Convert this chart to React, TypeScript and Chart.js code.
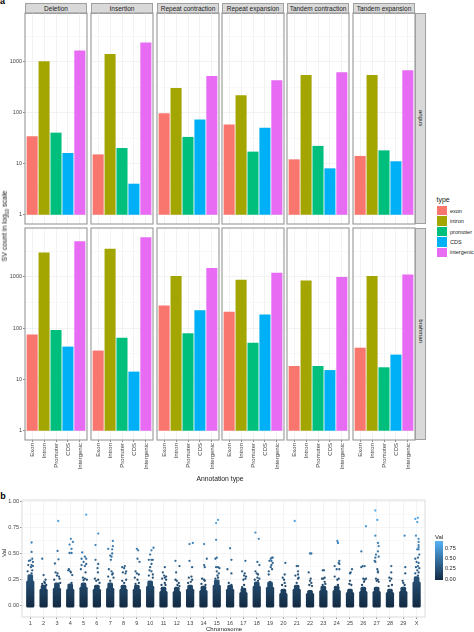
import { useEffect, useRef } from 'react';
import { Chart, registerables } from 'chart.js';

Chart.register(...registerables);

const FONT = "'Liberation Sans', Arial, sans-serif";

const facets = ['Deletion', 'Insertion', 'Repeat contraction', 'Repeat expansion', 'Tandem contraction', 'Tandem expansion'];
const categories = ['Exon', 'Intron', 'Promoter', 'CDS', 'Intergenic'];
const legendLabels = ['exon', 'intron', 'promoter', 'CDS', 'intergenic'];
const typeColors = ['#F8766D', '#A3A500', '#00BF7D', '#00B0F6', '#E76BF3'];
const logMajor = [1, 10, 100, 1000];
const logMinor = [3.16, 31.6, 316, 3160];

// one row per facet, values in category order
const angusCounts = [
  [34, 1000, 40, 16, 1620],
  [15, 1395, 20, 4, 2320],
  [96, 300, 33, 72, 517],
  [58, 216, 17, 50, 425],
  [12, 540, 22, 8, 610],
  [14, 540, 18, 11, 667],
];
const brahmanCounts = [
  [74, 2950, 91, 43, 4840],
  [36, 3480, 64, 14, 5800],
  [272, 1018, 78, 220, 1460],
  [205, 863, 51, 181, 1183],
  [18, 838, 18, 15, 973],
  [41, 1018, 17, 30, 1098],
];

const chromosomes = ['1', '2', '3', '4', '5', '6', '7', '8', '9', '10', '11', '12', '13', '14', '15', '16', '17', '18', '19', '20', '21', '22', '23', '24', '25', '26', '27', '28', '29', 'X'];
const valTicks = [0, 0.25, 0.5, 0.75, 1];
const valMinor = [0.125, 0.375, 0.625, 0.875];

// The solid part of each chromosome's column is too dense to read dot by dot,
// so it is drawn as a band: full width up to coreTop, narrower up to massTop.
const coreTop = [0.24, 0.16, 0.17, 0.16, 0.18, 0.16, 0.17, 0.16, 0.16, 0.19, 0.14, 0.14, 0.16, 0.15, 0.2, 0.16, 0.13, 0.19, 0.18, 0.12, 0.16, 0.12, 0.15, 0.15, 0.13, 0.14, 0.14, 0.13, 0.14, 0.23];
const massTop = [0.3, 0.2, 0.22, 0.21, 0.22, 0.2, 0.22, 0.2, 0.2, 0.24, 0.18, 0.18, 0.2, 0.19, 0.25, 0.2, 0.17, 0.23, 0.23, 0.16, 0.2, 0.15, 0.19, 0.19, 0.16, 0.18, 0.18, 0.16, 0.18, 0.28];

// readable dots above the band, per chromosome: [jitter, Val]
const outliers: number[][][] = [
  [[0.1, 0.605], [0.1, 0.515], [0.15, 0.45], [0, 0.435], [-0.1, 0.43], [0.2, 0.42], [-0.15, 0.39], [0.1, 0.39], [0.05, 0.37], [0.2, 0.38], [-0.2, 0.33], [0.15, 0.34], [0.1, 0.31]],
  [[-0.1, 0.45], [0, 0.295], [0.15, 0.25], [0.05, 0.23], [-0.1, 0.21], [0.2, 0.2], [0.1, 0.22]],
  [[0.1, 0.81], [0.05, 0.525], [0.12, 0.445], [-0.15, 0.405], [-0.1, 0.32], [0.05, 0.31], [0.15, 0.28], [0.2, 0.26], [-0.2, 0.25], [0, 0.29], [0.25, 0.22]],
  [[0.05, 0.64], [0.2, 0.61], [-0.05, 0.585], [0.1, 0.545], [-0.05, 0.505], [0.1, 0.505], [-0.1, 0.35], [0, 0.33], [0.05, 0.32], [0.15, 0.295], [-0.15, 0.34], [0.1, 0.22]],
  [[0.2, 0.87], [-0.1, 0.51], [0.1, 0.47], [0.2, 0.45], [-0.15, 0.45], [0, 0.42], [0.2, 0.4], [-0.15, 0.39], [0.1, 0.38], [-0.2, 0.35], [0.15, 0.32], [-0.05, 0.27], [0.1, 0.26], [0.25, 0.25], [0, 0.245]],
  [[0.1, 0.69], [-0.1, 0.58], [-0.1, 0.44], [0.1, 0.4], [0.05, 0.36], [0.08, 0.32], [-0.15, 0.26], [0.1, 0.25], [0.2, 0.22], [-0.05, 0.24]],
  [[0.2, 0.62], [0.2, 0.57], [0.15, 0.54], [-0.15, 0.545], [0.15, 0.5], [0, 0.48], [0.1, 0.47], [0.05, 0.44], [-0.1, 0.35], [0.1, 0.33], [0.2, 0.31], [-0.15, 0.28], [0.15, 0.3], [0.25, 0.27], [0, 0.24]],
  [[0.1, 0.38], [-0.1, 0.37], [0.05, 0.36], [0.2, 0.33], [-0.05, 0.32], [0.15, 0.31], [0.2, 0.25], [-0.1, 0.24], [0.05, 0.22]],
  [[0, 0.545], [0.1, 0.53], [0.05, 0.45], [0.2, 0.42], [-0.1, 0.33], [0, 0.31], [0.15, 0.3], [-0.15, 0.27], [0.05, 0.25], [0.15, 0.22], [-0.1, 0.21]],
  [[0.25, 0.555], [0.1, 0.53], [0, 0.49], [-0.1, 0.44], [0.1, 0.44], [0.2, 0.44], [0.1, 0.4], [0, 0.37], [-0.05, 0.34], [0.1, 0.33], [0.2, 0.3], [-0.1, 0.29], [0.2, 0.27]],
  [[0.1, 0.37], [-0.05, 0.32], [0.05, 0.29], [0.2, 0.28], [0.1, 0.27], [-0.1, 0.26], [0.2, 0.25], [0.1, 0.22], [-0.15, 0.2], [0.15, 0.2]],
  [[-0.1, 0.43], [0.2, 0.38], [-0.05, 0.32], [-0.1, 0.25], [0, 0.24], [0.15, 0.22], [0.05, 0.2], [0.2, 0.19]],
  [[-0.05, 0.59], [0.2, 0.6], [-0.05, 0.43], [0.15, 0.37], [0.1, 0.28], [-0.1, 0.27], [0.15, 0.25], [0.05, 0.23], [-0.15, 0.22]],
  [[0.05, 0.59], [0.25, 0.45], [0.05, 0.39], [0.1, 0.37], [-0.1, 0.26], [0.05, 0.25], [0.1, 0.24], [0.15, 0.2], [-0.15, 0.21]],
  [[0.1, 0.82], [-0.05, 0.79], [-0.05, 0.63], [0, 0.46], [-0.1, 0.45], [0.1, 0.37], [-0.05, 0.37], [0.2, 0.36], [0, 0.33], [0.15, 0.31], [0.05, 0.29], [0.1, 0.27], [-0.1, 0.26]],
  [[0, 0.55], [0.1, 0.44], [-0.2, 0.35], [0.1, 0.31], [-0.1, 0.22], [0.1, 0.2]],
  [[0.15, 0.43], [-0.1, 0.33], [0.1, 0.31], [0.05, 0.29], [0.2, 0.28], [0, 0.25], [0.15, 0.26], [0.05, 0.2], [-0.1, 0.18]],
  [[-0.1, 0.7], [0.15, 0.64], [0.05, 0.42], [0.2, 0.39], [-0.1, 0.33], [0, 0.31], [0.1, 0.3], [0.05, 0.27], [-0.15, 0.25], [0.2, 0.26], [0.1, 0.24]],
  [[0.15, 0.46], [0.05, 0.45], [0.2, 0.46], [0.1, 0.43], [-0.05, 0.43], [0.2, 0.41], [0.1, 0.39], [0.05, 0.37], [-0.1, 0.33], [0.15, 0.35], [-0.1, 0.3], [0, 0.23]],
  [[0.15, 0.41], [0.1, 0.3], [-0.05, 0.27], [0.05, 0.25], [0.1, 0.22], [-0.1, 0.2], [0.15, 0.19]],
  [[-0.15, 0.81], [0.1, 0.38], [0, 0.38], [0.1, 0.33], [0.1, 0.3], [-0.1, 0.29], [0.1, 0.26], [0.15, 0.27], [0, 0.22]],
  [[0.1, 0.5], [0, 0.5], [-0.1, 0.32], [0.05, 0.26], [0, 0.24], [0.1, 0.22], [-0.05, 0.2], [0.15, 0.19]],
  [[-0.05, 0.34], [0.05, 0.34], [0.1, 0.27], [-0.1, 0.26], [0, 0.26], [0.1, 0.23], [0.15, 0.21], [-0.05, 0.2]],
  [[0.05, 0.62], [0.1, 0.6], [0.2, 0.43], [0.15, 0.41], [0.2, 0.4], [-0.15, 0.38], [0, 0.35], [0.2, 0.35], [-0.15, 0.28], [0.15, 0.26], [0.05, 0.25], [0.1, 0.2]],
  [[0.15, 0.35], [0.05, 0.32], [0, 0.31], [0, 0.24], [-0.05, 0.21], [0.1, 0.2]],
  [[0.2, 0.76], [-0.15, 0.52], [-0.05, 0.38], [0.1, 0.38], [-0.15, 0.37], [0, 0.26], [0.2, 0.26], [0.1, 0.25], [0.05, 0.23], [-0.1, 0.2]],
  [[-0.1, 0.91], [0.05, 0.82], [-0.1, 0.67], [0.1, 0.6], [0.15, 0.57], [0.1, 0.52], [-0.05, 0.49], [0.15, 0.47], [-0.1, 0.46], [-0.15, 0.43], [-0.1, 0.42], [0.05, 0.35], [0.1, 0.33], [0.1, 0.32], [-0.05, 0.26], [0.1, 0.25], [0, 0.24], [0.15, 0.23]],
  [[0.1, 0.38], [0.1, 0.32], [-0.05, 0.27], [0.1, 0.26], [0, 0.24], [0.15, 0.2], [-0.1, 0.19]],
  [[0.1, 0.67], [0.15, 0.37], [0.15, 0.31], [-0.05, 0.24], [0, 0.22], [0.1, 0.2]],
  [[-0.1, 0.83], [0.1, 0.84], [0.05, 0.8], [-0.05, 0.67], [0.15, 0.64], [0.15, 0.61], [0.15, 0.58], [0.15, 0.56], [0.05, 0.54], [0.15, 0.54], [0.2, 0.49], [-0.1, 0.45], [0.1, 0.46], [0, 0.42], [0.15, 0.41], [0.1, 0.38], [-0.05, 0.37], [0.2, 0.36], [0.05, 0.34], [0.15, 0.32], [-0.1, 0.31], [0.1, 0.29]],
];

const panelLefts = [25, 91, 157, 222, 287, 353];
const PANEL_W = 62;
const LEFT_GUTTER = 25;
const BOTTOM_GUTTER = 36;

const borderPlugin = (color: string, width: number) => ({
  id: 'panelBorder',
  afterDraw(chart: Chart) {
    const { left, top, width: w, height: h } = chart.chartArea;
    const ctx = chart.ctx;
    ctx.save();
    ctx.strokeStyle = color;
    ctx.lineWidth = width;
    ctx.strokeRect(left, top, w, h);
    ctx.restore();
  },
});

// pin an axis to a fixed thickness, and stop its labels from shrinking the plot area
const fixAxis = (s: any, size: { width?: number; height?: number }) => {
  if (size.width !== undefined) s.width = size.width;
  if (size.height !== undefined) s.height = size.height;
  s.paddingLeft = 0;
  s.paddingRight = 0;
  s.paddingTop = 0;
  s.paddingBottom = 0;
};

interface BarPanelProps {
  values: number[];
  column: number;
  top: number;
  height: number;
  showBottom: boolean;
}

const BarPanel = ({ values, column, top, height, showBottom }: BarPanelProps) => {
  const canvasRef = useRef<HTMLCanvasElement>(null);
  const showLeft = column === 0;
  const leftW = showLeft ? LEFT_GUTTER : 0;
  const bottomH = showBottom ? BOTTOM_GUTTER : 0;

  useEffect(() => {
    if (!canvasRef.current) return;
    const chart = new Chart(canvasRef.current, {
      type: 'bar',
      data: {
        datasets: [{
          data: values.map((v, i) => ({ x: i, y: v })),
          backgroundColor: typeColors,
          barThickness: 10.4,
          base: 1,
        }],
      },
      options: {
        animation: false,
        responsive: false,
        events: [],
        layout: { padding: 1 },
        plugins: { legend: { display: false }, tooltip: { enabled: false } },
        scales: {
          x: {
            type: 'linear',
            offset: false,
            min: -0.6,
            max: 4.6,
            afterBuildTicks: (s: any) => { s.ticks = categories.map((_, i) => ({ value: i })); },
            afterFit: (s: any) => fixAxis(s, { height: bottomH }),
            border: { display: false },
            grid: { offset: false, color: '#ededed', lineWidth: 0.7, drawTicks: showBottom, tickLength: 2, tickColor: '#555' },
            ticks: {
              display: showBottom,
              autoSkip: false,
              minRotation: 90,
              maxRotation: 90,
              padding: 1,
              color: '#444',
              font: { family: FONT, size: 6 },
              callback: (v: any) => categories[v],
            },
          },
          y: {
            type: 'logarithmic',
            min: 0.66,
            max: 8950,
            afterBuildTicks: (s: any) => { s.ticks = [...logMajor, ...logMinor].map(value => ({ value })); },
            afterFit: (s: any) => fixAxis(s, { width: leftW }),
            border: { display: false },
            grid: {
              color: (c: any) => (logMajor.includes(c.tick.value) ? '#ededed' : '#f5f5f5'),
              lineWidth: 0.7,
              drawTicks: showLeft,
              tickLength: 2,
              tickColor: (c: any) => (logMajor.includes(c.tick.value) ? '#555' : 'transparent'),
            },
            ticks: {
              display: showLeft,
              autoSkip: false,
              padding: 1,
              color: '#444',
              font: { family: FONT, size: 5.5 },
              callback: (v: any) => (logMajor.includes(v) ? String(v) : ''),
            },
          },
        },
      },
      plugins: [borderPlugin('#a0a0a0', 1.2)],
    } as any);
    return () => chart.destroy();
  }, [values, leftW, bottomH, showLeft, showBottom]);

  return (
    <canvas
      ref={canvasRef}
      width={PANEL_W + leftW + 2}
      height={height + bottomH + 2}
      style={{ position: 'absolute', left: panelLefts[column] - leftW - 1, top: top - 1 }}
    />
  );
};

const lerpVal = (v: number) => {
  const t = Math.min(v / 0.91, 1);
  const r = Math.round(0x13 + (0x56 - 0x13) * t);
  const g = Math.round(0x2b + (0xb1 - 0x2b) * t);
  const b = Math.round(0x43 + (0xf7 - 0x43) * t);
  return `rgb(${r},${g},${b})`;
};

const bandFill = (c: any) => {
  const { ctx, scales } = c.chart;
  const from = scales.y ? scales.y.getPixelForValue(0) : NaN;
  const to = scales.y ? scales.y.getPixelForValue(0.91) : NaN;
  if (!Number.isFinite(from) || !Number.isFinite(to)) return '#132B43'; // scale not laid out yet
  const g = ctx.createLinearGradient(0, from, 0, to);
  g.addColorStop(0, '#132B43');
  g.addColorStop(1, '#56B1F7');
  return g;
};

const ValScatter = () => {
  const canvasRef = useRef<HTMLCanvasElement>(null);

  useEffect(() => {
    if (!canvasRef.current) return;
    const dots = outliers.flatMap((list, i) => list.map(([dx, v]) => ({ x: i + dx, y: v })));
    const chart = new Chart(canvasRef.current, {
      type: 'scatter',
      data: {
        datasets: [
          { type: 'bar', grouped: false, order: 2, data: massTop.map((v, i) => ({ x: i, y: v })), backgroundColor: bandFill, barThickness: 5, base: -0.005, borderRadius: 1.5, borderSkipped: false },
          { type: 'bar', grouped: false, order: 1, data: coreTop.map((v, i) => ({ x: i, y: v })), backgroundColor: bandFill, barThickness: 7.6, base: -0.012, borderRadius: 1.5, borderSkipped: false },
          {
            type: 'scatter',
            order: 0,
            data: dots,
            pointRadius: 1.15,
            pointBorderWidth: 0,
            pointBackgroundColor: (c: any) => lerpVal(c.raw ? c.raw.y : 0),
          },
        ],
      },
      options: {
        animation: false,
        responsive: false,
        events: [],
        layout: { padding: 1 },
        plugins: { legend: { display: false }, tooltip: { enabled: false } },
        scales: {
          x: {
            type: 'linear',
            offset: false,
            min: -0.62,
            max: 29.63,
            afterBuildTicks: (s: any) => { s.ticks = chromosomes.map((_, i) => ({ value: i })); },
            afterFit: (s: any) => fixAxis(s, { height: 10 }),
            border: { display: false },
            grid: { offset: false, color: '#efefef', lineWidth: 0.7, tickLength: 2, tickColor: '#666' },
            ticks: {
              autoSkip: false,
              maxRotation: 0,
              padding: 1,
              color: '#444',
              font: { family: FONT, size: 5.5 },
              callback: (v: any) => chromosomes[v],
            },
          },
          y: {
            type: 'linear',
            min: -0.105,
            max: 1.01,
            afterBuildTicks: (s: any) => { s.ticks = [...valTicks, ...valMinor].map(value => ({ value })); },
            afterFit: (s: any) => fixAxis(s, { width: 22 }),
            border: { display: false },
            grid: {
              color: (c: any) => (valTicks.includes(c.tick.value) ? '#efefef' : '#f6f6f6'),
              lineWidth: 0.7,
              tickLength: 2,
              tickColor: (c: any) => (valTicks.includes(c.tick.value) ? '#666' : 'transparent'),
            },
            ticks: {
              autoSkip: false,
              padding: 1,
              color: '#444',
              font: { family: FONT, size: 5.5 },
              callback: (v: any) => (valTicks.includes(v) ? v.toFixed(2) : ''),
            },
          },
        },
      },
      plugins: [borderPlugin('#e2e2e2', 1.2)],
    } as any);
    return () => chart.destroy();
  }, []);

  return <canvas ref={canvasRef} width={430} height={132} style={{ position: 'absolute', left: -1, top: 496 }} />;
};

const Text = ({ x, y, size = 6.5, rotate = 0, color = '#222', bold = false, align = 'center', children }: any) => (
  <div
    style={{
      position: 'absolute',
      left: x,
      top: y,
      font: `${bold ? 'bold ' : ''}${size}px ${FONT}`,
      color,
      whiteSpace: 'nowrap',
      transform: `translate(${align === 'left' ? '0' : '-50%'}, -50%) rotate(${rotate}deg)`,
    }}
  >
    {children}
  </div>
);

const stripStyle = {
  position: 'absolute' as const,
  boxSizing: 'border-box' as const,
  background: '#d9d9d9',
  border: '1px solid #a0a0a0',
};

export default function App() {
  return (
    <div style={{ position: 'absolute', left: 0, top: 0, width: 474, height: 632, overflow: 'hidden', background: '#fff' }}>
      <Text x={2.5} y={1} size={9} bold color="#000">a</Text>
      <Text x={3} y={496} size={9} bold color="#000">b</Text>

      {facets.map((name, i) => (
        <div key={name}>
          <div style={{ ...stripStyle, left: panelLefts[i], top: 3, width: PANEL_W, height: 11 }} />
          <Text x={panelLefts[i] + PANEL_W / 2} y={8} size={6.5}>{name}</Text>
          <BarPanel values={angusCounts[i]} column={i} top={13} height={211} showBottom={false} />
          <BarPanel values={brahmanCounts[i]} column={i} top={228} height={212} showBottom />
        </div>
      ))}

      <div style={{ ...stripStyle, left: 415, top: 13, width: 11, height: 211 }} />
      <Text x={420.5} y={118} size={6} rotate={90}>angus</Text>
      <div style={{ ...stripStyle, left: 415, top: 228, width: 11, height: 212 }} />
      <Text x={420.5} y={331} size={6} rotate={90}>brahman</Text>

      <div style={{ position: 'absolute', left: 4.5, top: 226, font: `7px ${FONT}`, color: '#111', whiteSpace: 'nowrap', transform: 'translate(-50%, -50%) rotate(-90deg)' }}>
        SV count in log<span style={{ fontSize: 5, verticalAlign: '-1.5px' }}>10</span> scale
      </div>
      <Text x={220} y={478} size={6.8}>Annotation type</Text>

      <Text x={436.5} y={199} size={7} align="left">type</Text>
      {legendLabels.map((label, i) => (
        <div key={label}>
          <div style={{ position: 'absolute', left: 437, top: 206 + i * 10.4, width: 10, height: 9.4, background: typeColors[i] }} />
          <Text x={450} y={210.7 + i * 10.4} size={5.5} align="left">{label}</Text>
        </div>
      ))}

      <ValScatter />
      <Text x={4} y={553} size={6} rotate={-90}>Val</Text>
      <Text x={224} y={629} size={6}>Chromosome</Text>

      <Text x={435} y={536.5} size={6} align="left">Val</Text>
      <div style={{ position: 'absolute', left: 435, top: 541, width: 8, height: 38.5, background: 'linear-gradient(to top, #132B43, #56B1F7)' }} />
      {['0.75', '0.50', '0.25', '0.00'].map((label, i) => (
        <Text key={label} x={445} y={547.7 + i * 10.35} size={5.5} align="left">{label}</Text>
      ))}
    </div>
  );
}
